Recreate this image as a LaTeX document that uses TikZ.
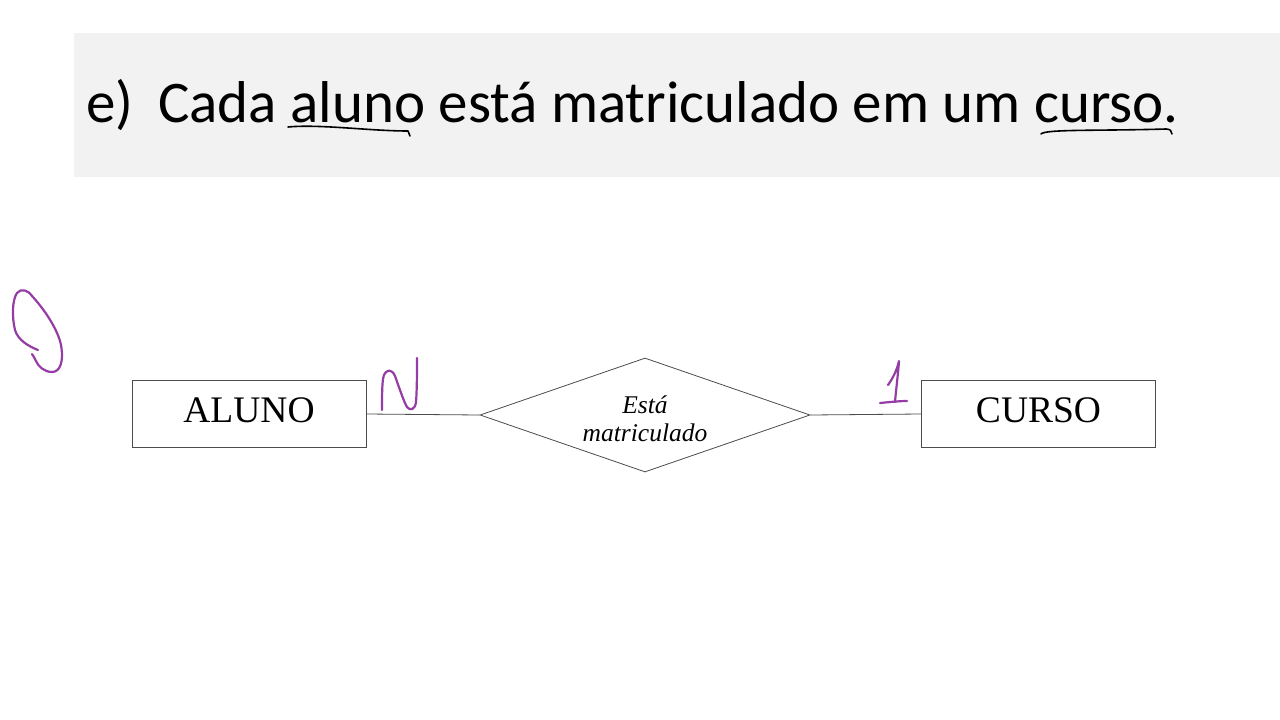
\documentclass[tikz,border=0pt]{standalone}
\usepackage{fontspec}
\setmainfont{Liberation Serif}
\newfontfamily\titlefont{Carlito}
\usetikzlibrary{shapes.geometric}
\definecolor{band}{RGB}{242,242,242}
\definecolor{ink}{RGB}{150,60,165}
\tikzset{
  entity/.style={draw=black!70, line width=0.8pt, minimum width=234pt, minimum height=67pt, inner sep=0pt, text height=16pt, text depth=0pt, font=\fontsize{37.5}{40}\selectfont},
  relation/.style={draw=black!70, line width=0.8pt, diamond, minimum width=330pt, minimum height=114pt, aspect=2.9, inner sep=0pt},
  rellabel/.style={inner sep=0pt, align=center, font=\fontsize{25.5}{28.5}\selectfont\itshape},
  link/.style={black!70, line width=0.8pt},
  pen/.style={ink, line width=2.2pt, line cap=round, line join=round},
  blackpen/.style={black, line width=1.6pt, line cap=round, line join=round}
}
\begin{document}
\begin{tikzpicture}[x=1pt,y=-1pt]
\useasboundingbox (0,0) rectangle (1280,720);
\fill[white] (0,0) rectangle (1280,720);
\fill[band] (74,33) rectangle (1280,177);
\node[anchor=base west, inner sep=0pt, font=\titlefont\fontsize{59}{66}\selectfont] (title) at (86,122) {e)\hspace{0.42em}Cada aluno está matriculado em um curso.};
% handwritten underlines
\draw[blackpen] (288,127) .. controls (320,124) and (370,131) .. (408,131) -- (410,136);
\draw[blackpen] (1041,134) .. controls (1045,129) and (1100,131) .. (1166,129) .. controls (1170,129) and (1172,131) .. (1172,134);
% ER diagram
\node[entity] (aluno) at (249,414) {ALUNO};
\node[entity] (curso) at (1038.5,414) {CURSO};
\node[relation] (rel) at (645,415) {};
\node[rellabel] (reltext) at ([yshift=-4pt]rel.center) {Está\\matriculado};
\draw[link] (aluno.east) -- (rel.west);
\draw[link] (rel.east) -- (curso.west);
% handwritten cardinalities
\draw[pen] (382,410) .. controls (382,395) and (382,380) .. (384,375) .. controls (387,369) and (392,369) .. (395,376) .. controls (400,390) and (404,402) .. (407,407) .. controls (410,411) and (415,410) .. (416,402) .. controls (417,390) and (417,370) .. (417,358);
\draw[pen] (888,385) .. controls (893,378) and (897,370) .. (899,361) .. controls (898,375) and (896,390) .. (895,402);
\draw[pen] (880,403) .. controls (890,402) and (900,401) .. (907,401);
% loop at left
\draw[pen] (38,350) .. controls (28,346) and (18,340) .. (15,330) .. controls (12,318) and (12,300) .. (17,293) .. controls (21,288) and (28,290) .. (32,296) .. controls (45,310) and (58,330) .. (61,345) .. controls (64,362) and (60,372) .. (52,372) .. controls (44,372) and (38,366) .. (36,361) .. controls (35,358) and (33,356) .. (32,354);
\end{tikzpicture}
\end{document}
